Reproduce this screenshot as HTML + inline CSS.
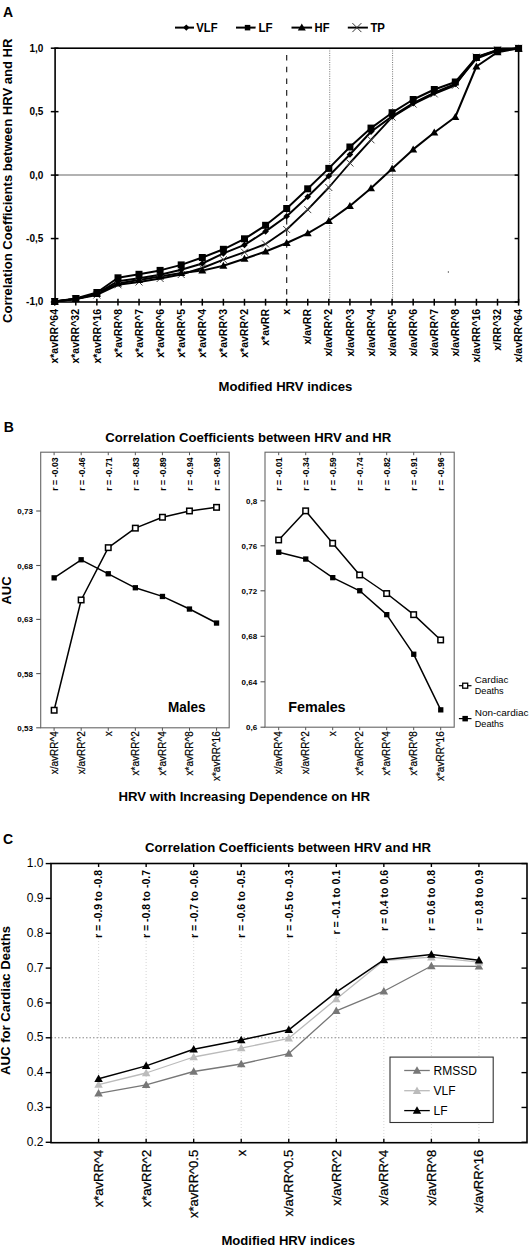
<!DOCTYPE html><html><head><meta charset="utf-8"><style>html,body{margin:0;padding:0;background:#fff;}svg{display:block;}</style></head><body>
<svg width="531" height="1247" viewBox="0 0 531 1247" font-family='"Liberation Sans", sans-serif'>
<rect width="531" height="1247" fill="#fff"/>
<text x="3" y="17.2" font-size="14" font-weight="bold" text-anchor="start" fill="#000">A</text>
<line x1="175" y1="27.6" x2="194" y2="27.6" stroke="#000" stroke-width="2"/>
<path d="M186.3 24.400000000000002 L189.5 27.6 L186.3 30.8 L183.10000000000002 27.6 Z" fill="#000"/>
<text x="196.3" y="32.3" font-size="12" font-weight="bold" text-anchor="start" fill="#000" textLength="21.3" lengthAdjust="spacingAndGlyphs">VLF</text>
<line x1="236" y1="27.6" x2="255.6" y2="27.6" stroke="#000" stroke-width="2"/>
<rect x="244.8" y="24.9" width="5.5" height="5.5" fill="#000" stroke="none" stroke-width="0"/>
<text x="258.5" y="32.3" font-size="12" font-weight="bold" text-anchor="start" fill="#000" textLength="14.2" lengthAdjust="spacingAndGlyphs">LF</text>
<line x1="291.5" y1="27.6" x2="312.1" y2="27.6" stroke="#000" stroke-width="2"/>
<path d="M301.8 23.6 L305.8 30.6 L297.8 30.6 Z" fill="#000"/>
<text x="314.6" y="32.3" font-size="12" font-weight="bold" text-anchor="start" fill="#000" textLength="14.9" lengthAdjust="spacingAndGlyphs">HF</text>
<line x1="347.8" y1="27.6" x2="367.9" y2="27.6" stroke="#000" stroke-width="1.9"/>
<path d="M352.4 23.1 L361.4 32.1 M361.4 23.1 L352.4 32.1" stroke="#333" stroke-width="1"/>
<text x="370.4" y="32.3" font-size="12" font-weight="bold" text-anchor="start" fill="#000" textLength="14.6" lengthAdjust="spacingAndGlyphs">TP</text>
<line x1="55.1" y1="175.0" x2="518.6" y2="175.0" stroke="#666" stroke-width="1.1"/>
<line x1="286.65000000000003" y1="48.2" x2="286.65000000000003" y2="302" stroke="#333" stroke-width="1.3" stroke-dasharray="5.6,6.1" stroke-dashoffset="4.9"/>
<line x1="329.7227272727273" y1="48.2" x2="329.7227272727273" y2="302" stroke="#666" stroke-width="0.9" stroke-dasharray="1,1.3"/>
<line x1="392.5818181818182" y1="48.2" x2="392.5818181818182" y2="302" stroke="#666" stroke-width="0.9" stroke-dasharray="1,1.3"/>
<rect x="55.1" y="48.2" width="463.5" height="253.8" fill="none" stroke="#000" stroke-width="1.6"/>
<line x1="50.8" y1="48.19999999999999" x2="58.5" y2="48.19999999999999" stroke="#000" stroke-width="1.5"/>
<line x1="514.6" y1="48.19999999999999" x2="518.6" y2="48.19999999999999" stroke="#000" stroke-width="1.5"/>
<text x="43.3" y="51.59999999999999" font-size="10" font-weight="bold" text-anchor="end" fill="#000">1,0</text>
<line x1="50.8" y1="111.64999999999999" x2="58.5" y2="111.64999999999999" stroke="#000" stroke-width="1.5"/>
<line x1="514.6" y1="111.64999999999999" x2="518.6" y2="111.64999999999999" stroke="#000" stroke-width="1.5"/>
<text x="43.3" y="115.05" font-size="10" font-weight="bold" text-anchor="end" fill="#000">0,5</text>
<line x1="50.8" y1="175.1" x2="58.5" y2="175.1" stroke="#000" stroke-width="1.5"/>
<line x1="514.6" y1="175.1" x2="518.6" y2="175.1" stroke="#000" stroke-width="1.5"/>
<text x="43.3" y="178.5" font-size="10" font-weight="bold" text-anchor="end" fill="#000">0,0</text>
<line x1="50.8" y1="238.55" x2="58.5" y2="238.55" stroke="#000" stroke-width="1.5"/>
<line x1="514.6" y1="238.55" x2="518.6" y2="238.55" stroke="#000" stroke-width="1.5"/>
<text x="43.3" y="241.95000000000002" font-size="10" font-weight="bold" text-anchor="end" fill="#000">-0,5</text>
<line x1="50.8" y1="302.0" x2="58.5" y2="302.0" stroke="#000" stroke-width="1.5"/>
<line x1="514.6" y1="302.0" x2="518.6" y2="302.0" stroke="#000" stroke-width="1.5"/>
<text x="43.3" y="305.4" font-size="10" font-weight="bold" text-anchor="end" fill="#000">-1,0</text>
<line x1="54.7" y1="298.8" x2="54.7" y2="305.6" stroke="#000" stroke-width="1.5"/>
<line x1="75.78636363636365" y1="298.8" x2="75.78636363636365" y2="305.6" stroke="#000" stroke-width="1.5"/>
<line x1="96.87272727272727" y1="298.8" x2="96.87272727272727" y2="305.6" stroke="#000" stroke-width="1.5"/>
<line x1="117.95909090909092" y1="298.8" x2="117.95909090909092" y2="305.6" stroke="#000" stroke-width="1.5"/>
<line x1="139.04545454545456" y1="298.8" x2="139.04545454545456" y2="305.6" stroke="#000" stroke-width="1.5"/>
<line x1="160.13181818181818" y1="298.8" x2="160.13181818181818" y2="305.6" stroke="#000" stroke-width="1.5"/>
<line x1="181.21818181818182" y1="298.8" x2="181.21818181818182" y2="305.6" stroke="#000" stroke-width="1.5"/>
<line x1="202.30454545454546" y1="298.8" x2="202.30454545454546" y2="305.6" stroke="#000" stroke-width="1.5"/>
<line x1="223.39090909090913" y1="298.8" x2="223.39090909090913" y2="305.6" stroke="#000" stroke-width="1.5"/>
<line x1="244.47727272727275" y1="298.8" x2="244.47727272727275" y2="305.6" stroke="#000" stroke-width="1.5"/>
<line x1="265.56363636363636" y1="298.8" x2="265.56363636363636" y2="305.6" stroke="#000" stroke-width="1.5"/>
<line x1="286.65000000000003" y1="298.8" x2="286.65000000000003" y2="305.6" stroke="#000" stroke-width="1.5"/>
<line x1="307.73636363636365" y1="298.8" x2="307.73636363636365" y2="305.6" stroke="#000" stroke-width="1.5"/>
<line x1="328.8227272727273" y1="298.8" x2="328.8227272727273" y2="305.6" stroke="#000" stroke-width="1.5"/>
<line x1="349.90909090909093" y1="298.8" x2="349.90909090909093" y2="305.6" stroke="#000" stroke-width="1.5"/>
<line x1="370.99545454545455" y1="298.8" x2="370.99545454545455" y2="305.6" stroke="#000" stroke-width="1.5"/>
<line x1="392.0818181818182" y1="298.8" x2="392.0818181818182" y2="305.6" stroke="#000" stroke-width="1.5"/>
<line x1="413.16818181818184" y1="298.8" x2="413.16818181818184" y2="305.6" stroke="#000" stroke-width="1.5"/>
<line x1="434.25454545454545" y1="298.8" x2="434.25454545454545" y2="305.6" stroke="#000" stroke-width="1.5"/>
<line x1="455.3409090909091" y1="298.8" x2="455.3409090909091" y2="305.6" stroke="#000" stroke-width="1.5"/>
<line x1="476.42727272727274" y1="298.8" x2="476.42727272727274" y2="305.6" stroke="#000" stroke-width="1.5"/>
<line x1="497.5136363636364" y1="298.8" x2="497.5136363636364" y2="305.6" stroke="#000" stroke-width="1.5"/>
<line x1="518.6" y1="298.8" x2="518.6" y2="305.6" stroke="#000" stroke-width="1.5"/>
<polyline points="54.7,301.5 75.8,299.0 96.9,295.0 118.0,284.8 139.0,282.0 160.1,278.5 181.2,274.5 202.3,268.0 223.4,259.6 244.5,252.2 265.6,244.0 286.7,229.5 307.7,209.6 328.8,187.5 349.9,163.0 371.0,139.8 392.1,117.1 413.2,104.1 434.3,93.9 455.3,85.3 476.4,57.0 497.5,50.0 518.6,48.4" fill="none" stroke="#000" stroke-width="1.9" stroke-linejoin="round"/>
<polyline points="54.7,301.5 75.8,299.0 96.9,294.0 118.0,283.4 139.0,280.0 160.1,276.5 181.2,273.0 202.3,270.6 223.4,265.7 244.5,258.8 265.6,251.5 286.7,243.0 307.7,233.3 328.8,221.0 349.9,205.9 371.0,188.3 392.1,168.7 413.2,149.4 434.3,132.5 455.3,117.0 476.4,66.5 497.5,52.2 518.6,48.4" fill="none" stroke="#000" stroke-width="2.0" stroke-linejoin="round"/>
<polyline points="54.7,301.5 75.8,299.0 96.9,293.5 118.0,281.2 139.0,278.2 160.1,274.8 181.2,269.8 202.3,263.5 223.4,253.4 244.5,244.9 265.6,231.4 286.7,216.2 307.7,196.8 328.8,176.0 349.9,154.5 371.0,131.8 392.1,116.4 413.2,103.2 434.3,92.6 455.3,84.0 476.4,58.5 497.5,50.5 518.6,48.4" fill="none" stroke="#000" stroke-width="2.0" stroke-linejoin="round"/>
<polyline points="54.7,301.5 75.8,298.5 96.9,292.5 118.0,277.8 139.0,274.3 160.1,270.4 181.2,264.9 202.3,257.5 223.4,249.3 244.5,238.8 265.6,225.3 286.7,208.5 307.7,188.8 328.8,168.4 349.9,147.0 371.0,128.1 392.1,112.7 413.2,99.5 434.3,89.5 455.3,82.0 476.4,57.5 497.5,50.2 518.6,48.4" fill="none" stroke="#000" stroke-width="2.0" stroke-linejoin="round"/>
<path d="M51.2 298.0 L58.2 305.0 M58.2 298.0 L51.2 305.0" stroke="#444" stroke-width="1"/>
<path d="M72.28636363636365 295.5 L79.28636363636365 302.5 M79.28636363636365 295.5 L72.28636363636365 302.5" stroke="#444" stroke-width="1"/>
<path d="M93.37272727272727 291.5 L100.37272727272727 298.5 M100.37272727272727 291.5 L93.37272727272727 298.5" stroke="#444" stroke-width="1"/>
<path d="M114.45909090909092 281.3 L121.45909090909092 288.3 M121.45909090909092 281.3 L114.45909090909092 288.3" stroke="#444" stroke-width="1"/>
<path d="M135.54545454545456 278.5 L142.54545454545456 285.5 M142.54545454545456 278.5 L135.54545454545456 285.5" stroke="#444" stroke-width="1"/>
<path d="M156.63181818181818 275.0 L163.63181818181818 282.0 M163.63181818181818 275.0 L156.63181818181818 282.0" stroke="#444" stroke-width="1"/>
<path d="M177.71818181818182 271.0 L184.71818181818182 278.0 M184.71818181818182 271.0 L177.71818181818182 278.0" stroke="#444" stroke-width="1"/>
<path d="M198.80454545454546 264.5 L205.80454545454546 271.5 M205.80454545454546 264.5 L198.80454545454546 271.5" stroke="#444" stroke-width="1"/>
<path d="M219.89090909090913 256.1 L226.89090909090913 263.1 M226.89090909090913 256.1 L219.89090909090913 263.1" stroke="#444" stroke-width="1"/>
<path d="M240.97727272727275 248.7 L247.97727272727275 255.7 M247.97727272727275 248.7 L240.97727272727275 255.7" stroke="#444" stroke-width="1"/>
<path d="M262.06363636363636 240.5 L269.06363636363636 247.5 M269.06363636363636 240.5 L262.06363636363636 247.5" stroke="#444" stroke-width="1"/>
<path d="M283.15000000000003 226.0 L290.15000000000003 233.0 M290.15000000000003 226.0 L283.15000000000003 233.0" stroke="#444" stroke-width="1"/>
<path d="M304.23636363636365 206.1 L311.23636363636365 213.1 M311.23636363636365 206.1 L304.23636363636365 213.1" stroke="#444" stroke-width="1"/>
<path d="M325.3227272727273 184.0 L332.3227272727273 191.0 M332.3227272727273 184.0 L325.3227272727273 191.0" stroke="#444" stroke-width="1"/>
<path d="M346.40909090909093 159.5 L353.40909090909093 166.5 M353.40909090909093 159.5 L346.40909090909093 166.5" stroke="#444" stroke-width="1"/>
<path d="M367.49545454545455 136.3 L374.49545454545455 143.3 M374.49545454545455 136.3 L367.49545454545455 143.3" stroke="#444" stroke-width="1"/>
<path d="M388.5818181818182 113.6 L395.5818181818182 120.6 M395.5818181818182 113.6 L388.5818181818182 120.6" stroke="#444" stroke-width="1"/>
<path d="M409.66818181818184 100.6 L416.66818181818184 107.6 M416.66818181818184 100.6 L409.66818181818184 107.6" stroke="#444" stroke-width="1"/>
<path d="M430.75454545454545 90.4 L437.75454545454545 97.4 M437.75454545454545 90.4 L430.75454545454545 97.4" stroke="#444" stroke-width="1"/>
<path d="M451.8409090909091 81.8 L458.8409090909091 88.8 M458.8409090909091 81.8 L451.8409090909091 88.8" stroke="#444" stroke-width="1"/>
<path d="M472.92727272727274 53.5 L479.92727272727274 60.5 M479.92727272727274 53.5 L472.92727272727274 60.5" stroke="#444" stroke-width="1"/>
<path d="M494.0136363636364 46.5 L501.0136363636364 53.5 M501.0136363636364 46.5 L494.0136363636364 53.5" stroke="#444" stroke-width="1"/>
<path d="M515.1 44.9 L522.1 51.9 M522.1 44.9 L515.1 51.9" stroke="#444" stroke-width="1"/>
<path d="M54.7 297.5 L58.7 304.5 L50.7 304.5 Z" fill="#000"/>
<path d="M75.78636363636365 295.0 L79.8 302.0 L71.8 302.0 Z" fill="#000"/>
<path d="M96.87272727272727 290.0 L100.9 297.0 L92.9 297.0 Z" fill="#000"/>
<path d="M117.95909090909092 279.4 L122.0 286.4 L114.0 286.4 Z" fill="#000"/>
<path d="M139.04545454545456 276.0 L143.0 283.0 L135.0 283.0 Z" fill="#000"/>
<path d="M160.13181818181818 272.5 L164.1 279.5 L156.1 279.5 Z" fill="#000"/>
<path d="M181.21818181818182 269.0 L185.2 276.0 L177.2 276.0 Z" fill="#000"/>
<path d="M202.30454545454546 266.6 L206.3 273.6 L198.3 273.6 Z" fill="#000"/>
<path d="M223.39090909090913 261.7 L227.4 268.7 L219.4 268.7 Z" fill="#000"/>
<path d="M244.47727272727275 254.8 L248.5 261.8 L240.5 261.8 Z" fill="#000"/>
<path d="M265.56363636363636 247.5 L269.6 254.5 L261.6 254.5 Z" fill="#000"/>
<path d="M286.65000000000003 239.0 L290.7 246.0 L282.7 246.0 Z" fill="#000"/>
<path d="M307.73636363636365 229.3 L311.7 236.3 L303.7 236.3 Z" fill="#000"/>
<path d="M328.8227272727273 217.0 L332.8 224.0 L324.8 224.0 Z" fill="#000"/>
<path d="M349.90909090909093 201.9 L353.9 208.9 L345.9 208.9 Z" fill="#000"/>
<path d="M370.99545454545455 184.3 L375.0 191.3 L367.0 191.3 Z" fill="#000"/>
<path d="M392.0818181818182 164.7 L396.1 171.7 L388.1 171.7 Z" fill="#000"/>
<path d="M413.16818181818184 145.4 L417.2 152.4 L409.2 152.4 Z" fill="#000"/>
<path d="M434.25454545454545 128.5 L438.3 135.5 L430.3 135.5 Z" fill="#000"/>
<path d="M455.3409090909091 113.0 L459.3 120.0 L451.3 120.0 Z" fill="#000"/>
<path d="M476.42727272727274 62.5 L480.4 69.5 L472.4 69.5 Z" fill="#000"/>
<path d="M497.5136363636364 48.2 L501.5 55.2 L493.5 55.2 Z" fill="#000"/>
<path d="M518.6 44.4 L522.6 51.4 L514.6 51.4 Z" fill="#000"/>
<path d="M54.7 298.2 L58.0 301.5 L54.7 304.8 L51.400000000000006 301.5 Z" fill="#000"/>
<path d="M75.78636363636365 295.7 L79.08636363636364 299 L75.78636363636365 302.3 L72.48636363636365 299 Z" fill="#000"/>
<path d="M96.87272727272727 290.2 L100.17272727272727 293.5 L96.87272727272727 296.8 L93.57272727272728 293.5 Z" fill="#000"/>
<path d="M117.95909090909092 277.9 L121.25909090909092 281.2 L117.95909090909092 284.5 L114.65909090909092 281.2 Z" fill="#000"/>
<path d="M139.04545454545456 274.9 L142.34545454545457 278.2 L139.04545454545456 281.5 L135.74545454545455 278.2 Z" fill="#000"/>
<path d="M160.13181818181818 271.5 L163.4318181818182 274.8 L160.13181818181818 278.1 L156.83181818181816 274.8 Z" fill="#000"/>
<path d="M181.21818181818182 266.5 L184.51818181818183 269.8 L181.21818181818182 273.1 L177.9181818181818 269.8 Z" fill="#000"/>
<path d="M202.30454545454546 260.2 L205.60454545454547 263.5 L202.30454545454546 266.8 L199.00454545454545 263.5 Z" fill="#000"/>
<path d="M223.39090909090913 250.1 L226.69090909090914 253.4 L223.39090909090913 256.7 L220.09090909090912 253.4 Z" fill="#000"/>
<path d="M244.47727272727275 241.6 L247.77727272727276 244.9 L244.47727272727275 248.20000000000002 L241.17727272727274 244.9 Z" fill="#000"/>
<path d="M265.56363636363636 228.1 L268.8636363636364 231.4 L265.56363636363636 234.70000000000002 L262.26363636363635 231.4 Z" fill="#000"/>
<path d="M286.65000000000003 212.89999999999998 L289.95000000000005 216.2 L286.65000000000003 219.5 L283.35 216.2 Z" fill="#000"/>
<path d="M307.73636363636365 193.5 L311.03636363636366 196.8 L307.73636363636365 200.10000000000002 L304.43636363636364 196.8 Z" fill="#000"/>
<path d="M328.8227272727273 172.7 L332.12272727272733 176 L328.8227272727273 179.3 L325.5227272727273 176 Z" fill="#000"/>
<path d="M349.90909090909093 151.2 L353.20909090909095 154.5 L349.90909090909093 157.8 L346.6090909090909 154.5 Z" fill="#000"/>
<path d="M370.99545454545455 128.5 L374.29545454545456 131.8 L370.99545454545455 135.10000000000002 L367.69545454545454 131.8 Z" fill="#000"/>
<path d="M392.0818181818182 113.10000000000001 L395.38181818181823 116.4 L392.0818181818182 119.7 L388.7818181818182 116.4 Z" fill="#000"/>
<path d="M413.16818181818184 99.9 L416.46818181818185 103.2 L413.16818181818184 106.5 L409.8681818181818 103.2 Z" fill="#000"/>
<path d="M434.25454545454545 89.3 L437.55454545454546 92.6 L434.25454545454545 95.89999999999999 L430.95454545454544 92.6 Z" fill="#000"/>
<path d="M455.3409090909091 80.7 L458.64090909090913 84 L455.3409090909091 87.3 L452.0409090909091 84 Z" fill="#000"/>
<path d="M476.42727272727274 55.2 L479.72727272727275 58.5 L476.42727272727274 61.8 L473.1272727272727 58.5 Z" fill="#000"/>
<path d="M497.5136363636364 47.2 L500.8136363636364 50.5 L497.5136363636364 53.8 L494.2136363636364 50.5 Z" fill="#000"/>
<path d="M518.6 45.1 L521.9 48.4 L518.6 51.699999999999996 L515.3000000000001 48.4 Z" fill="#000"/>
<rect x="51.2" y="298.0" width="7" height="7" fill="#000" stroke="none" stroke-width="0"/>
<rect x="72.3" y="295.0" width="7" height="7" fill="#000" stroke="none" stroke-width="0"/>
<rect x="93.4" y="289.0" width="7" height="7" fill="#000" stroke="none" stroke-width="0"/>
<rect x="114.5" y="274.3" width="7" height="7" fill="#000" stroke="none" stroke-width="0"/>
<rect x="135.5" y="270.8" width="7" height="7" fill="#000" stroke="none" stroke-width="0"/>
<rect x="156.6" y="266.9" width="7" height="7" fill="#000" stroke="none" stroke-width="0"/>
<rect x="177.7" y="261.4" width="7" height="7" fill="#000" stroke="none" stroke-width="0"/>
<rect x="198.8" y="254.0" width="7" height="7" fill="#000" stroke="none" stroke-width="0"/>
<rect x="219.9" y="245.8" width="7" height="7" fill="#000" stroke="none" stroke-width="0"/>
<rect x="241.0" y="235.3" width="7" height="7" fill="#000" stroke="none" stroke-width="0"/>
<rect x="262.1" y="221.8" width="7" height="7" fill="#000" stroke="none" stroke-width="0"/>
<rect x="283.2" y="205.0" width="7" height="7" fill="#000" stroke="none" stroke-width="0"/>
<rect x="304.2" y="185.3" width="7" height="7" fill="#000" stroke="none" stroke-width="0"/>
<rect x="325.3" y="164.9" width="7" height="7" fill="#000" stroke="none" stroke-width="0"/>
<rect x="346.4" y="143.5" width="7" height="7" fill="#000" stroke="none" stroke-width="0"/>
<rect x="367.5" y="124.6" width="7" height="7" fill="#000" stroke="none" stroke-width="0"/>
<rect x="388.6" y="109.2" width="7" height="7" fill="#000" stroke="none" stroke-width="0"/>
<rect x="409.7" y="96.0" width="7" height="7" fill="#000" stroke="none" stroke-width="0"/>
<rect x="430.8" y="86.0" width="7" height="7" fill="#000" stroke="none" stroke-width="0"/>
<rect x="451.8" y="78.5" width="7" height="7" fill="#000" stroke="none" stroke-width="0"/>
<rect x="472.9" y="54.0" width="7" height="7" fill="#000" stroke="none" stroke-width="0"/>
<rect x="494.0" y="46.7" width="7" height="7" fill="#000" stroke="none" stroke-width="0"/>
<rect x="515.1" y="44.9" width="7" height="7" fill="#000" stroke="none" stroke-width="0"/>
<text transform="translate(12.0,180.75) rotate(-90)" font-size="13" font-weight="bold" text-anchor="middle" fill="#000" textLength="284.5" lengthAdjust="spacingAndGlyphs">Correlation Coefficients between HRV and HR</text>
<text transform="translate(58.3,309) rotate(-90)" font-size="10.5" font-weight="bold" text-anchor="end" fill="#000">x*avRR^64</text>
<text transform="translate(79.4,309) rotate(-90)" font-size="10.5" font-weight="bold" text-anchor="end" fill="#000">x*avRR^32</text>
<text transform="translate(100.5,309) rotate(-90)" font-size="10.5" font-weight="bold" text-anchor="end" fill="#000">x*avRR^16</text>
<text transform="translate(121.6,309) rotate(-90)" font-size="10.5" font-weight="bold" text-anchor="end" fill="#000">x*avRR^8</text>
<text transform="translate(142.6,309) rotate(-90)" font-size="10.5" font-weight="bold" text-anchor="end" fill="#000">x*avRR^7</text>
<text transform="translate(163.7,309) rotate(-90)" font-size="10.5" font-weight="bold" text-anchor="end" fill="#000">x*avRR^6</text>
<text transform="translate(184.8,309) rotate(-90)" font-size="10.5" font-weight="bold" text-anchor="end" fill="#000">x*avRR^5</text>
<text transform="translate(205.9,309) rotate(-90)" font-size="10.5" font-weight="bold" text-anchor="end" fill="#000">x*avRR^4</text>
<text transform="translate(227.0,309) rotate(-90)" font-size="10.5" font-weight="bold" text-anchor="end" fill="#000">x*avRR^3</text>
<text transform="translate(248.1,309) rotate(-90)" font-size="10.5" font-weight="bold" text-anchor="end" fill="#000">x*avRR^2</text>
<text transform="translate(269.2,309) rotate(-90)" font-size="10.5" font-weight="bold" text-anchor="end" fill="#000">x*avRR</text>
<text transform="translate(290.3,309) rotate(-90)" font-size="10.5" font-weight="bold" text-anchor="end" fill="#000">x</text>
<text transform="translate(311.3,309) rotate(-90)" font-size="10.5" font-weight="bold" text-anchor="end" fill="#000">x/avRR</text>
<text transform="translate(332.4,309) rotate(-90)" font-size="10.5" font-weight="bold" text-anchor="end" fill="#000">x/avRR^2</text>
<text transform="translate(353.5,309) rotate(-90)" font-size="10.5" font-weight="bold" text-anchor="end" fill="#000">x/avRR^3</text>
<text transform="translate(374.6,309) rotate(-90)" font-size="10.5" font-weight="bold" text-anchor="end" fill="#000">x/avRR^4</text>
<text transform="translate(395.7,309) rotate(-90)" font-size="10.5" font-weight="bold" text-anchor="end" fill="#000">x/avRR^5</text>
<text transform="translate(416.8,309) rotate(-90)" font-size="10.5" font-weight="bold" text-anchor="end" fill="#000">x/avRR^6</text>
<text transform="translate(437.9,309) rotate(-90)" font-size="10.5" font-weight="bold" text-anchor="end" fill="#000">x/avRR^7</text>
<text transform="translate(458.9,309) rotate(-90)" font-size="10.5" font-weight="bold" text-anchor="end" fill="#000">x/avRR^8</text>
<text transform="translate(480.0,309) rotate(-90)" font-size="10.5" font-weight="bold" text-anchor="end" fill="#000">x/avRR^16</text>
<text transform="translate(501.1,309) rotate(-90)" font-size="10.5" font-weight="bold" text-anchor="end" fill="#000">x/RR^32</text>
<text transform="translate(522.2,309) rotate(-90)" font-size="10.5" font-weight="bold" text-anchor="end" fill="#000">x/avRR^64</text>
<text x="285.5" y="390.5" font-size="13" font-weight="bold" text-anchor="middle" fill="#000" textLength="133.8" lengthAdjust="spacingAndGlyphs">Modified HRV indices</text>
<text x="3.7" y="432" font-size="14" font-weight="bold" text-anchor="start" fill="#000">B</text>
<text x="248.3" y="442" font-size="13" font-weight="bold" text-anchor="middle" fill="#000" textLength="286" lengthAdjust="spacingAndGlyphs">Correlation Coefficients between HRV and HR</text>
<rect x="40.7" y="452.2" width="188.5" height="275.59999999999997" fill="none" stroke="#666" stroke-width="1.1"/>
<line x1="36.2" y1="511" x2="40.7" y2="511" stroke="#555" stroke-width="1.1"/>
<text x="32.900000000000006" y="514.0" font-size="8" font-weight="bold" text-anchor="end" fill="#000">0,73</text>
<line x1="36.2" y1="565.5" x2="40.7" y2="565.5" stroke="#555" stroke-width="1.1"/>
<text x="32.900000000000006" y="568.5" font-size="8" font-weight="bold" text-anchor="end" fill="#000">0,68</text>
<line x1="36.2" y1="619.4" x2="40.7" y2="619.4" stroke="#555" stroke-width="1.1"/>
<text x="32.900000000000006" y="622.4" font-size="8" font-weight="bold" text-anchor="end" fill="#000">0,63</text>
<line x1="36.2" y1="673.6" x2="40.7" y2="673.6" stroke="#555" stroke-width="1.1"/>
<text x="32.900000000000006" y="676.6" font-size="8" font-weight="bold" text-anchor="end" fill="#000">0,58</text>
<line x1="36.2" y1="727.8" x2="40.7" y2="727.8" stroke="#555" stroke-width="1.1"/>
<text x="32.900000000000006" y="730.8" font-size="8" font-weight="bold" text-anchor="end" fill="#000">0,53</text>
<line x1="54.1" y1="452.2" x2="54.1" y2="455.2" stroke="#555" stroke-width="1"/>
<line x1="54.1" y1="727.8" x2="54.1" y2="730.8" stroke="#555" stroke-width="1"/>
<line x1="81.18" y1="452.2" x2="81.18" y2="455.2" stroke="#555" stroke-width="1"/>
<line x1="81.18" y1="727.8" x2="81.18" y2="730.8" stroke="#555" stroke-width="1"/>
<line x1="108.25999999999999" y1="452.2" x2="108.25999999999999" y2="455.2" stroke="#555" stroke-width="1"/>
<line x1="108.25999999999999" y1="727.8" x2="108.25999999999999" y2="730.8" stroke="#555" stroke-width="1"/>
<line x1="135.34" y1="452.2" x2="135.34" y2="455.2" stroke="#555" stroke-width="1"/>
<line x1="135.34" y1="727.8" x2="135.34" y2="730.8" stroke="#555" stroke-width="1"/>
<line x1="162.42" y1="452.2" x2="162.42" y2="455.2" stroke="#555" stroke-width="1"/>
<line x1="162.42" y1="727.8" x2="162.42" y2="730.8" stroke="#555" stroke-width="1"/>
<line x1="189.49999999999997" y1="452.2" x2="189.49999999999997" y2="455.2" stroke="#555" stroke-width="1"/>
<line x1="189.49999999999997" y1="727.8" x2="189.49999999999997" y2="730.8" stroke="#555" stroke-width="1"/>
<line x1="216.57999999999998" y1="452.2" x2="216.57999999999998" y2="455.2" stroke="#555" stroke-width="1"/>
<line x1="216.57999999999998" y1="727.8" x2="216.57999999999998" y2="730.8" stroke="#555" stroke-width="1"/>
<polyline points="54.1,710.3 81.2,600.0 108.3,547.6 135.3,528.1 162.4,517.3 189.5,511.0 216.6,507.3" fill="none" stroke="#000" stroke-width="1.5" stroke-linejoin="round"/>
<polyline points="54.1,577.9 81.2,559.8 108.3,573.8 135.3,587.8 162.4,596.4 189.5,609.0 216.6,623.0" fill="none" stroke="#000" stroke-width="1.5" stroke-linejoin="round"/>
<rect x="51.4" y="707.5" width="5.5" height="5.5" fill="#fff" stroke="#000" stroke-width="1.5"/>
<rect x="78.4" y="597.2" width="5.5" height="5.5" fill="#fff" stroke="#000" stroke-width="1.5"/>
<rect x="105.5" y="544.9" width="5.5" height="5.5" fill="#fff" stroke="#000" stroke-width="1.5"/>
<rect x="132.6" y="525.4" width="5.5" height="5.5" fill="#fff" stroke="#000" stroke-width="1.5"/>
<rect x="159.7" y="514.5" width="5.5" height="5.5" fill="#fff" stroke="#000" stroke-width="1.5"/>
<rect x="186.7" y="508.2" width="5.5" height="5.5" fill="#fff" stroke="#000" stroke-width="1.5"/>
<rect x="213.8" y="504.6" width="5.5" height="5.5" fill="#fff" stroke="#000" stroke-width="1.5"/>
<rect x="51.5" y="575.2" width="5.3" height="5.3" fill="#000" stroke="none" stroke-width="0"/>
<rect x="78.5" y="557.1" width="5.3" height="5.3" fill="#000" stroke="none" stroke-width="0"/>
<rect x="105.6" y="571.1" width="5.3" height="5.3" fill="#000" stroke="none" stroke-width="0"/>
<rect x="132.7" y="585.1" width="5.3" height="5.3" fill="#000" stroke="none" stroke-width="0"/>
<rect x="159.8" y="593.8" width="5.3" height="5.3" fill="#000" stroke="none" stroke-width="0"/>
<rect x="186.8" y="606.4" width="5.3" height="5.3" fill="#000" stroke="none" stroke-width="0"/>
<rect x="213.9" y="620.4" width="5.3" height="5.3" fill="#000" stroke="none" stroke-width="0"/>
<text transform="translate(57.7,457.3) rotate(-90)" font-size="9.6" font-weight="bold" text-anchor="end" fill="#000" textLength="33.5" lengthAdjust="spacingAndGlyphs">r = -0.03</text>
<text transform="translate(84.8,457.3) rotate(-90)" font-size="9.6" font-weight="bold" text-anchor="end" fill="#000" textLength="33.5" lengthAdjust="spacingAndGlyphs">r = -0.46</text>
<text transform="translate(111.9,457.3) rotate(-90)" font-size="9.6" font-weight="bold" text-anchor="end" fill="#000" textLength="33.5" lengthAdjust="spacingAndGlyphs">r = -0.71</text>
<text transform="translate(138.9,457.3) rotate(-90)" font-size="9.6" font-weight="bold" text-anchor="end" fill="#000" textLength="33.5" lengthAdjust="spacingAndGlyphs">r = -0.83</text>
<text transform="translate(166.0,457.3) rotate(-90)" font-size="9.6" font-weight="bold" text-anchor="end" fill="#000" textLength="33.5" lengthAdjust="spacingAndGlyphs">r = -0.89</text>
<text transform="translate(193.1,457.3) rotate(-90)" font-size="9.6" font-weight="bold" text-anchor="end" fill="#000" textLength="33.5" lengthAdjust="spacingAndGlyphs">r = -0.94</text>
<text transform="translate(220.2,457.3) rotate(-90)" font-size="9.6" font-weight="bold" text-anchor="end" fill="#000" textLength="33.5" lengthAdjust="spacingAndGlyphs">r = -0.98</text>
<text transform="translate(57.6,731.3) rotate(-90)" font-size="10" text-anchor="end" fill="#000" stroke="#000" stroke-width="0.2">x/avRR^4</text>
<text transform="translate(84.7,731.3) rotate(-90)" font-size="10" text-anchor="end" fill="#000" stroke="#000" stroke-width="0.2">x/avRR^2</text>
<text transform="translate(111.8,731.3) rotate(-90)" font-size="10" text-anchor="end" fill="#000" stroke="#000" stroke-width="0.2">x</text>
<text transform="translate(138.8,731.3) rotate(-90)" font-size="10" text-anchor="end" fill="#000" stroke="#000" stroke-width="0.2">x*avRR^2</text>
<text transform="translate(165.9,731.3) rotate(-90)" font-size="10" text-anchor="end" fill="#000" stroke="#000" stroke-width="0.2">x*avRR^4</text>
<text transform="translate(193.0,731.3) rotate(-90)" font-size="10" text-anchor="end" fill="#000" stroke="#000" stroke-width="0.2">x*avRR^8</text>
<text transform="translate(220.1,731.3) rotate(-90)" font-size="10" text-anchor="end" fill="#000" stroke="#000" stroke-width="0.2">x*avRR^16</text>
<text x="168" y="712.3" font-size="14" font-weight="bold" text-anchor="start" fill="#000" textLength="37.6" lengthAdjust="spacingAndGlyphs">Males</text>
<rect x="265" y="452.2" width="189.2" height="275.00000000000006" fill="none" stroke="#666" stroke-width="1.1"/>
<line x1="260.5" y1="500.8" x2="265" y2="500.8" stroke="#555" stroke-width="1.1"/>
<text x="257.2" y="503.8" font-size="8" font-weight="bold" text-anchor="end" fill="#000">0,8</text>
<line x1="260.5" y1="545.8" x2="265" y2="545.8" stroke="#555" stroke-width="1.1"/>
<text x="257.2" y="548.8" font-size="8" font-weight="bold" text-anchor="end" fill="#000">0,76</text>
<line x1="260.5" y1="590.8" x2="265" y2="590.8" stroke="#555" stroke-width="1.1"/>
<text x="257.2" y="593.8" font-size="8" font-weight="bold" text-anchor="end" fill="#000">0,72</text>
<line x1="260.5" y1="636.3" x2="265" y2="636.3" stroke="#555" stroke-width="1.1"/>
<text x="257.2" y="639.3" font-size="8" font-weight="bold" text-anchor="end" fill="#000">0,68</text>
<line x1="260.5" y1="681.8" x2="265" y2="681.8" stroke="#555" stroke-width="1.1"/>
<text x="257.2" y="684.8" font-size="8" font-weight="bold" text-anchor="end" fill="#000">0,64</text>
<line x1="260.5" y1="727.2" x2="265" y2="727.2" stroke="#555" stroke-width="1.1"/>
<text x="257.2" y="730.2" font-size="8" font-weight="bold" text-anchor="end" fill="#000">0,6</text>
<line x1="278.7" y1="452.2" x2="278.7" y2="455.2" stroke="#555" stroke-width="1"/>
<line x1="278.7" y1="727.2" x2="278.7" y2="730.2" stroke="#555" stroke-width="1"/>
<line x1="305.7" y1="452.2" x2="305.7" y2="455.2" stroke="#555" stroke-width="1"/>
<line x1="305.7" y1="727.2" x2="305.7" y2="730.2" stroke="#555" stroke-width="1"/>
<line x1="332.7" y1="452.2" x2="332.7" y2="455.2" stroke="#555" stroke-width="1"/>
<line x1="332.7" y1="727.2" x2="332.7" y2="730.2" stroke="#555" stroke-width="1"/>
<line x1="359.7" y1="452.2" x2="359.7" y2="455.2" stroke="#555" stroke-width="1"/>
<line x1="359.7" y1="727.2" x2="359.7" y2="730.2" stroke="#555" stroke-width="1"/>
<line x1="386.7" y1="452.2" x2="386.7" y2="455.2" stroke="#555" stroke-width="1"/>
<line x1="386.7" y1="727.2" x2="386.7" y2="730.2" stroke="#555" stroke-width="1"/>
<line x1="413.7" y1="452.2" x2="413.7" y2="455.2" stroke="#555" stroke-width="1"/>
<line x1="413.7" y1="727.2" x2="413.7" y2="730.2" stroke="#555" stroke-width="1"/>
<line x1="440.7" y1="452.2" x2="440.7" y2="455.2" stroke="#555" stroke-width="1"/>
<line x1="440.7" y1="727.2" x2="440.7" y2="730.2" stroke="#555" stroke-width="1"/>
<polyline points="278.7,540.0 305.7,510.9 332.7,543.2 359.7,575.0 386.7,593.5 413.7,614.6 440.7,640.0" fill="none" stroke="#000" stroke-width="1.5" stroke-linejoin="round"/>
<polyline points="278.7,552.2 305.7,559.0 332.7,577.6 359.7,590.8 386.7,614.6 413.7,654.3 440.7,709.9" fill="none" stroke="#000" stroke-width="1.5" stroke-linejoin="round"/>
<rect x="275.9" y="537.2" width="5.5" height="5.5" fill="#fff" stroke="#000" stroke-width="1.5"/>
<rect x="302.9" y="508.1" width="5.5" height="5.5" fill="#fff" stroke="#000" stroke-width="1.5"/>
<rect x="329.9" y="540.5" width="5.5" height="5.5" fill="#fff" stroke="#000" stroke-width="1.5"/>
<rect x="356.9" y="572.2" width="5.5" height="5.5" fill="#fff" stroke="#000" stroke-width="1.5"/>
<rect x="383.9" y="590.8" width="5.5" height="5.5" fill="#fff" stroke="#000" stroke-width="1.5"/>
<rect x="410.9" y="611.9" width="5.5" height="5.5" fill="#fff" stroke="#000" stroke-width="1.5"/>
<rect x="437.9" y="637.2" width="5.5" height="5.5" fill="#fff" stroke="#000" stroke-width="1.5"/>
<rect x="276.1" y="549.6" width="5.3" height="5.3" fill="#000" stroke="none" stroke-width="0"/>
<rect x="303.1" y="556.4" width="5.3" height="5.3" fill="#000" stroke="none" stroke-width="0"/>
<rect x="330.1" y="575.0" width="5.3" height="5.3" fill="#000" stroke="none" stroke-width="0"/>
<rect x="357.1" y="588.1" width="5.3" height="5.3" fill="#000" stroke="none" stroke-width="0"/>
<rect x="384.1" y="612.0" width="5.3" height="5.3" fill="#000" stroke="none" stroke-width="0"/>
<rect x="411.1" y="651.6" width="5.3" height="5.3" fill="#000" stroke="none" stroke-width="0"/>
<rect x="438.1" y="707.2" width="5.3" height="5.3" fill="#000" stroke="none" stroke-width="0"/>
<text transform="translate(282.3,457.3) rotate(-90)" font-size="9.6" font-weight="bold" text-anchor="end" fill="#000" textLength="33.5" lengthAdjust="spacingAndGlyphs">r = -0.01</text>
<text transform="translate(309.3,457.3) rotate(-90)" font-size="9.6" font-weight="bold" text-anchor="end" fill="#000" textLength="33.5" lengthAdjust="spacingAndGlyphs">r = -0.34</text>
<text transform="translate(336.3,457.3) rotate(-90)" font-size="9.6" font-weight="bold" text-anchor="end" fill="#000" textLength="33.5" lengthAdjust="spacingAndGlyphs">r = -0.59</text>
<text transform="translate(363.3,457.3) rotate(-90)" font-size="9.6" font-weight="bold" text-anchor="end" fill="#000" textLength="33.5" lengthAdjust="spacingAndGlyphs">r = -0.74</text>
<text transform="translate(390.3,457.3) rotate(-90)" font-size="9.6" font-weight="bold" text-anchor="end" fill="#000" textLength="33.5" lengthAdjust="spacingAndGlyphs">r = -0.82</text>
<text transform="translate(417.3,457.3) rotate(-90)" font-size="9.6" font-weight="bold" text-anchor="end" fill="#000" textLength="33.5" lengthAdjust="spacingAndGlyphs">r = -0.91</text>
<text transform="translate(444.3,457.3) rotate(-90)" font-size="9.6" font-weight="bold" text-anchor="end" fill="#000" textLength="33.5" lengthAdjust="spacingAndGlyphs">r = -0.96</text>
<text transform="translate(282.2,731.3) rotate(-90)" font-size="10" text-anchor="end" fill="#000" stroke="#000" stroke-width="0.2">x/avRR^4</text>
<text transform="translate(309.2,731.3) rotate(-90)" font-size="10" text-anchor="end" fill="#000" stroke="#000" stroke-width="0.2">x/avRR^2</text>
<text transform="translate(336.2,731.3) rotate(-90)" font-size="10" text-anchor="end" fill="#000" stroke="#000" stroke-width="0.2">x</text>
<text transform="translate(363.2,731.3) rotate(-90)" font-size="10" text-anchor="end" fill="#000" stroke="#000" stroke-width="0.2">x*avRR^2</text>
<text transform="translate(390.2,731.3) rotate(-90)" font-size="10" text-anchor="end" fill="#000" stroke="#000" stroke-width="0.2">x*avRR^4</text>
<text transform="translate(417.2,731.3) rotate(-90)" font-size="10" text-anchor="end" fill="#000" stroke="#000" stroke-width="0.2">x*avRR^8</text>
<text transform="translate(444.2,731.3) rotate(-90)" font-size="10" text-anchor="end" fill="#000" stroke="#000" stroke-width="0.2">x*avRR^16</text>
<text x="288.2" y="712.3" font-size="14" font-weight="bold" text-anchor="start" fill="#000" textLength="57.4" lengthAdjust="spacingAndGlyphs">Females</text>
<text transform="translate(11,590.5) rotate(-90)" font-size="13" font-weight="bold" text-anchor="middle" fill="#000">AUC</text>
<line x1="458.9" y1="685.7" x2="471.5" y2="685.7" stroke="#000" stroke-width="1.2"/>
<rect x="462.7" y="683.2" width="5" height="5" fill="#fff" stroke="#000" stroke-width="1.3"/>
<text x="474.7" y="683.2" font-size="9.5" text-anchor="start" fill="#000" textLength="33.7" lengthAdjust="spacingAndGlyphs">Cardiac</text>
<text x="474.7" y="694.2" font-size="9.5" text-anchor="start" fill="#000" textLength="29" lengthAdjust="spacingAndGlyphs">Deaths</text>
<line x1="458.9" y1="718.6" x2="471.5" y2="718.6" stroke="#000" stroke-width="1.2"/>
<rect x="462.4" y="715.9" width="5.5" height="5.5" fill="#000" stroke="none" stroke-width="0"/>
<text x="474.7" y="716.3" font-size="9.5" text-anchor="start" fill="#000" textLength="53.8" lengthAdjust="spacingAndGlyphs">Non-cardiac</text>
<text x="474.7" y="727.3" font-size="9.5" text-anchor="start" fill="#000" textLength="29" lengthAdjust="spacingAndGlyphs">Deaths</text>
<text x="244.2" y="800.5" font-size="13" font-weight="bold" text-anchor="middle" fill="#000" textLength="251.6" lengthAdjust="spacingAndGlyphs">HRV with Increasing Dependence on HR</text>
<text x="2.9" y="844" font-size="14" font-weight="bold" text-anchor="start" fill="#000">C</text>
<text x="288.1" y="851.8" font-size="13" font-weight="bold" text-anchor="middle" fill="#000" textLength="286" lengthAdjust="spacingAndGlyphs">Correlation Coefficients between HRV and HR</text>
<line x1="98.6" y1="938" x2="98.6" y2="1142.7" stroke="#ccc" stroke-width="0.8" stroke-dasharray="1,2"/>
<line x1="146.14" y1="938" x2="146.14" y2="1142.7" stroke="#ccc" stroke-width="0.8" stroke-dasharray="1,2"/>
<line x1="193.68" y1="938" x2="193.68" y2="1142.7" stroke="#ccc" stroke-width="0.8" stroke-dasharray="1,2"/>
<line x1="241.22" y1="938" x2="241.22" y2="1142.7" stroke="#ccc" stroke-width="0.8" stroke-dasharray="1,2"/>
<line x1="288.76" y1="938" x2="288.76" y2="1142.7" stroke="#ccc" stroke-width="0.8" stroke-dasharray="1,2"/>
<line x1="336.29999999999995" y1="938" x2="336.29999999999995" y2="1142.7" stroke="#ccc" stroke-width="0.8" stroke-dasharray="1,2"/>
<line x1="383.84000000000003" y1="938" x2="383.84000000000003" y2="1142.7" stroke="#ccc" stroke-width="0.8" stroke-dasharray="1,2"/>
<line x1="431.38" y1="938" x2="431.38" y2="1142.7" stroke="#ccc" stroke-width="0.8" stroke-dasharray="1,2"/>
<line x1="478.91999999999996" y1="938" x2="478.91999999999996" y2="1142.7" stroke="#ccc" stroke-width="0.8" stroke-dasharray="1,2"/>
<line x1="51" y1="1037.78" x2="527" y2="1037.78" stroke="#888" stroke-width="1" stroke-dasharray="1.5,2"/>
<rect x="51" y="863.5" width="476" height="279.20000000000005" fill="none" stroke="#000" stroke-width="1.6"/>
<line x1="45.7" y1="1142.3" x2="51" y2="1142.3" stroke="#000" stroke-width="1.4"/>
<line x1="521.5" y1="1142.3" x2="527" y2="1142.3" stroke="#000" stroke-width="1.4"/>
<text x="43.5" y="1146.0" font-size="12" text-anchor="end" fill="#000">0.2</text>
<line x1="45.7" y1="1107.46" x2="51" y2="1107.46" stroke="#000" stroke-width="1.4"/>
<line x1="521.5" y1="1107.46" x2="527" y2="1107.46" stroke="#000" stroke-width="1.4"/>
<text x="43.5" y="1111.16" font-size="12" text-anchor="end" fill="#000">0.3</text>
<line x1="45.7" y1="1072.62" x2="51" y2="1072.62" stroke="#000" stroke-width="1.4"/>
<line x1="521.5" y1="1072.62" x2="527" y2="1072.62" stroke="#000" stroke-width="1.4"/>
<text x="43.5" y="1076.32" font-size="12" text-anchor="end" fill="#000">0.4</text>
<line x1="45.7" y1="1037.78" x2="51" y2="1037.78" stroke="#000" stroke-width="1.4"/>
<line x1="521.5" y1="1037.78" x2="527" y2="1037.78" stroke="#000" stroke-width="1.4"/>
<text x="43.5" y="1041.48" font-size="12" text-anchor="end" fill="#000">0.5</text>
<line x1="45.7" y1="1002.9399999999999" x2="51" y2="1002.9399999999999" stroke="#000" stroke-width="1.4"/>
<line x1="521.5" y1="1002.9399999999999" x2="527" y2="1002.9399999999999" stroke="#000" stroke-width="1.4"/>
<text x="43.5" y="1006.64" font-size="12" text-anchor="end" fill="#000">0.6</text>
<line x1="45.7" y1="968.1" x2="51" y2="968.1" stroke="#000" stroke-width="1.4"/>
<line x1="521.5" y1="968.1" x2="527" y2="968.1" stroke="#000" stroke-width="1.4"/>
<text x="43.5" y="971.8000000000001" font-size="12" text-anchor="end" fill="#000">0.7</text>
<line x1="45.7" y1="933.26" x2="51" y2="933.26" stroke="#000" stroke-width="1.4"/>
<line x1="521.5" y1="933.26" x2="527" y2="933.26" stroke="#000" stroke-width="1.4"/>
<text x="43.5" y="936.96" font-size="12" text-anchor="end" fill="#000">0.8</text>
<line x1="45.7" y1="898.4199999999998" x2="51" y2="898.4199999999998" stroke="#000" stroke-width="1.4"/>
<line x1="521.5" y1="898.4199999999998" x2="527" y2="898.4199999999998" stroke="#000" stroke-width="1.4"/>
<text x="43.5" y="902.1199999999999" font-size="12" text-anchor="end" fill="#000">0.9</text>
<line x1="45.7" y1="863.5799999999999" x2="51" y2="863.5799999999999" stroke="#000" stroke-width="1.4"/>
<line x1="521.5" y1="863.5799999999999" x2="527" y2="863.5799999999999" stroke="#000" stroke-width="1.4"/>
<text x="43.5" y="867.28" font-size="12" text-anchor="end" fill="#000">1.0</text>
<line x1="98.6" y1="863.5" x2="98.6" y2="867.0" stroke="#000" stroke-width="1.4"/>
<line x1="98.6" y1="1138.7" x2="98.6" y2="1142.7" stroke="#000" stroke-width="1.4"/>
<line x1="146.14" y1="863.5" x2="146.14" y2="867.0" stroke="#000" stroke-width="1.4"/>
<line x1="146.14" y1="1138.7" x2="146.14" y2="1142.7" stroke="#000" stroke-width="1.4"/>
<line x1="193.68" y1="863.5" x2="193.68" y2="867.0" stroke="#000" stroke-width="1.4"/>
<line x1="193.68" y1="1138.7" x2="193.68" y2="1142.7" stroke="#000" stroke-width="1.4"/>
<line x1="241.22" y1="863.5" x2="241.22" y2="867.0" stroke="#000" stroke-width="1.4"/>
<line x1="241.22" y1="1138.7" x2="241.22" y2="1142.7" stroke="#000" stroke-width="1.4"/>
<line x1="288.76" y1="863.5" x2="288.76" y2="867.0" stroke="#000" stroke-width="1.4"/>
<line x1="288.76" y1="1138.7" x2="288.76" y2="1142.7" stroke="#000" stroke-width="1.4"/>
<line x1="336.29999999999995" y1="863.5" x2="336.29999999999995" y2="867.0" stroke="#000" stroke-width="1.4"/>
<line x1="336.29999999999995" y1="1138.7" x2="336.29999999999995" y2="1142.7" stroke="#000" stroke-width="1.4"/>
<line x1="383.84000000000003" y1="863.5" x2="383.84000000000003" y2="867.0" stroke="#000" stroke-width="1.4"/>
<line x1="383.84000000000003" y1="1138.7" x2="383.84000000000003" y2="1142.7" stroke="#000" stroke-width="1.4"/>
<line x1="431.38" y1="863.5" x2="431.38" y2="867.0" stroke="#000" stroke-width="1.4"/>
<line x1="431.38" y1="1138.7" x2="431.38" y2="1142.7" stroke="#000" stroke-width="1.4"/>
<line x1="478.91999999999996" y1="863.5" x2="478.91999999999996" y2="867.0" stroke="#000" stroke-width="1.4"/>
<line x1="478.91999999999996" y1="1138.7" x2="478.91999999999996" y2="1142.7" stroke="#000" stroke-width="1.4"/>
<polyline points="98.6,1093.4 146.1,1084.9 193.7,1071.5 241.2,1064.0 288.8,1053.6 336.3,1010.8 383.8,991.2 431.4,966.0 478.9,966.3" fill="none" stroke="#777" stroke-width="1.3" stroke-linejoin="round"/>
<path d="M98.6 1089.1 L102.8 1096.6 L94.3 1096.6 Z" fill="#777"/>
<path d="M146.14 1080.6 L150.4 1088.1 L141.9 1088.1 Z" fill="#777"/>
<path d="M193.68 1067.2 L197.9 1074.7 L189.4 1074.7 Z" fill="#777"/>
<path d="M241.22 1059.7 L245.5 1067.2 L237.0 1067.2 Z" fill="#777"/>
<path d="M288.76 1049.3 L293.0 1056.8 L284.5 1056.8 Z" fill="#777"/>
<path d="M336.29999999999995 1006.5 L340.5 1014.0 L332.0 1014.0 Z" fill="#777"/>
<path d="M383.84000000000003 986.9 L388.1 994.4 L379.6 994.4 Z" fill="#777"/>
<path d="M431.38 961.7 L435.6 969.2 L427.1 969.2 Z" fill="#777"/>
<path d="M478.91999999999996 962.0 L483.2 969.5 L474.7 969.5 Z" fill="#777"/>
<polyline points="98.6,1084.6 146.1,1073.0 193.7,1057.0 241.2,1048.1 288.8,1038.3 336.3,999.0 383.8,960.5 431.4,957.2 478.9,962.2" fill="none" stroke="#bbb" stroke-width="1.3" stroke-linejoin="round"/>
<path d="M98.6 1080.3 L102.8 1087.8 L94.3 1087.8 Z" fill="#bbb"/>
<path d="M146.14 1068.7 L150.4 1076.2 L141.9 1076.2 Z" fill="#bbb"/>
<path d="M193.68 1052.7 L197.9 1060.2 L189.4 1060.2 Z" fill="#bbb"/>
<path d="M241.22 1043.8 L245.5 1051.3 L237.0 1051.3 Z" fill="#bbb"/>
<path d="M288.76 1034.0 L293.0 1041.5 L284.5 1041.5 Z" fill="#bbb"/>
<path d="M336.29999999999995 994.7 L340.5 1002.2 L332.0 1002.2 Z" fill="#bbb"/>
<path d="M383.84000000000003 956.2 L388.1 963.7 L379.6 963.7 Z" fill="#bbb"/>
<path d="M431.38 952.9 L435.6 960.4 L427.1 960.4 Z" fill="#bbb"/>
<path d="M478.91999999999996 957.9 L483.2 965.4 L474.7 965.4 Z" fill="#bbb"/>
<polyline points="98.6,1078.8 146.1,1065.9 193.7,1049.2 241.2,1040.0 288.8,1029.8 336.3,992.2 383.8,959.8 431.4,954.5 478.9,960.3" fill="none" stroke="#000" stroke-width="1.5" stroke-linejoin="round"/>
<path d="M98.6 1074.5 L102.8 1082.0 L94.3 1082.0 Z" fill="#000"/>
<path d="M146.14 1061.6 L150.4 1069.1 L141.9 1069.1 Z" fill="#000"/>
<path d="M193.68 1044.9 L197.9 1052.4 L189.4 1052.4 Z" fill="#000"/>
<path d="M241.22 1035.7 L245.5 1043.2 L237.0 1043.2 Z" fill="#000"/>
<path d="M288.76 1025.5 L293.0 1033.0 L284.5 1033.0 Z" fill="#000"/>
<path d="M336.29999999999995 987.9 L340.5 995.4 L332.0 995.4 Z" fill="#000"/>
<path d="M383.84000000000003 955.5 L388.1 963.0 L379.6 963.0 Z" fill="#000"/>
<path d="M431.38 950.2 L435.6 957.7 L427.1 957.7 Z" fill="#000"/>
<path d="M478.91999999999996 956.0 L483.2 963.5 L474.7 963.5 Z" fill="#000"/>
<text transform="translate(102.4,870) rotate(-90)" font-size="10.5" font-weight="bold" text-anchor="end" fill="#000">r = -0.9 to -0.8</text>
<text transform="translate(149.9,870) rotate(-90)" font-size="10.5" font-weight="bold" text-anchor="end" fill="#000">r = -0.8 to -0.7</text>
<text transform="translate(197.5,870) rotate(-90)" font-size="10.5" font-weight="bold" text-anchor="end" fill="#000">r = -0.7 to -0.6</text>
<text transform="translate(245.0,870) rotate(-90)" font-size="10.5" font-weight="bold" text-anchor="end" fill="#000">r = -0.6 to -0.5</text>
<text transform="translate(292.6,870) rotate(-90)" font-size="10.5" font-weight="bold" text-anchor="end" fill="#000">r = -0.5 to -0.3</text>
<text transform="translate(340.1,870) rotate(-90)" font-size="10.5" font-weight="bold" text-anchor="end" fill="#000">r = -0.1 to 0.1</text>
<text transform="translate(387.6,870) rotate(-90)" font-size="10.5" font-weight="bold" text-anchor="end" fill="#000">r = 0.4 to 0.6</text>
<text transform="translate(435.2,870) rotate(-90)" font-size="10.5" font-weight="bold" text-anchor="end" fill="#000">r = 0.6 to 0.8</text>
<text transform="translate(482.7,870) rotate(-90)" font-size="10.5" font-weight="bold" text-anchor="end" fill="#000">r = 0.8 to 0.9</text>
<rect x="390" y="1057.1" width="103.2" height="65.4" fill="#fff" stroke="#333" stroke-width="1.1"/>
<line x1="404.2" y1="1070.5" x2="429.8" y2="1070.5" stroke="#777" stroke-width="1.3"/>
<path d="M417 1066.2 L421.2 1073.7 L412.8 1073.7 Z" fill="#777"/>
<text x="433.5" y="1074.7" font-size="12" text-anchor="start" fill="#000">RMSSD</text>
<line x1="404.2" y1="1090.7" x2="429.8" y2="1090.7" stroke="#bbb" stroke-width="1.3"/>
<path d="M417 1086.4 L421.2 1093.9 L412.8 1093.9 Z" fill="#bbb"/>
<text x="433.5" y="1094.9" font-size="12" text-anchor="start" fill="#000">VLF</text>
<line x1="404.2" y1="1110.6" x2="429.8" y2="1110.6" stroke="#000" stroke-width="1.3"/>
<path d="M417 1106.3 L421.2 1113.8 L412.8 1113.8 Z" fill="#000"/>
<text x="433.5" y="1114.8" font-size="12" text-anchor="start" fill="#000">LF</text>
<text transform="translate(103.1,1149.8) rotate(-90)" font-size="13" text-anchor="end" fill="#000" stroke="#000" stroke-width="0.25">x*avRR^4</text>
<text transform="translate(150.6,1149.8) rotate(-90)" font-size="13" text-anchor="end" fill="#000" stroke="#000" stroke-width="0.25">x*avRR^2</text>
<text transform="translate(198.2,1149.8) rotate(-90)" font-size="13" text-anchor="end" fill="#000" stroke="#000" stroke-width="0.25">x*avRR^0.5</text>
<text transform="translate(245.7,1149.8) rotate(-90)" font-size="13" text-anchor="end" fill="#000" stroke="#000" stroke-width="0.25">x</text>
<text transform="translate(293.3,1149.8) rotate(-90)" font-size="13" text-anchor="end" fill="#000" stroke="#000" stroke-width="0.25">x/avRR^0.5</text>
<text transform="translate(340.8,1149.8) rotate(-90)" font-size="13" text-anchor="end" fill="#000" stroke="#000" stroke-width="0.25">x/avRR^2</text>
<text transform="translate(388.3,1149.8) rotate(-90)" font-size="13" text-anchor="end" fill="#000" stroke="#000" stroke-width="0.25">x/avRR^4</text>
<text transform="translate(435.9,1149.8) rotate(-90)" font-size="13" text-anchor="end" fill="#000" stroke="#000" stroke-width="0.25">x/avRR^8</text>
<text transform="translate(483.4,1149.8) rotate(-90)" font-size="13" text-anchor="end" fill="#000" stroke="#000" stroke-width="0.25">x/avRR^16</text>
<text transform="translate(10.4,1000.5) rotate(-90)" font-size="13" font-weight="bold" text-anchor="middle" fill="#000" textLength="149" lengthAdjust="spacingAndGlyphs">AUC for Cardiac Deaths</text>
<text x="288.25" y="1245.2" font-size="13" font-weight="bold" text-anchor="middle" fill="#000" textLength="133.7" lengthAdjust="spacingAndGlyphs">Modified HRV indices</text>
<rect x="447.8" y="271.4" width="1.2" height="1.2" fill="#444"/>
</svg></body></html>
